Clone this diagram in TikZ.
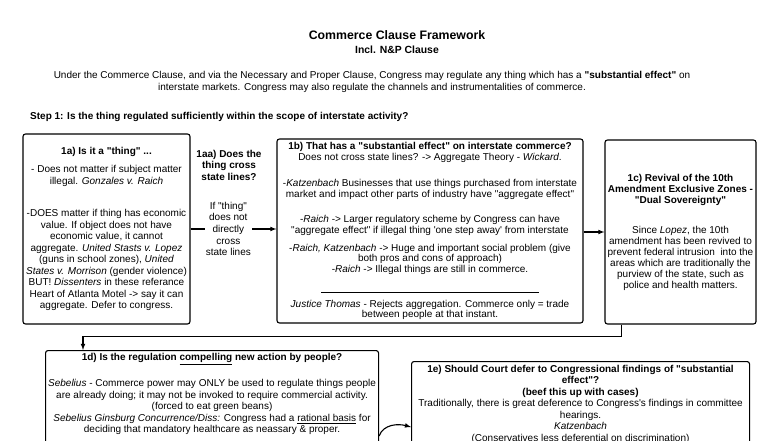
\documentclass[tikz,border=0pt]{standalone}
\usepackage{fontspec}
\setmainfont[Ligatures=TeXOff]{Liberation Sans}
\usetikzlibrary{positioning}

\begin{document}
\begin{tikzpicture}[x=1pt, y=1pt]
\tikzstyle{box}=[rectangle, draw=black, line width=1.1pt, rounded corners=2.5pt, align=center, inner sep=2pt, font=\fontsize{10}{11.5}\selectfont]
\tikzstyle{txt}=[align=center, inner sep=0pt, font=\fontsize{10}{11.5}\selectfont]
\tikzstyle{connect}=[-latex, line width=1.1pt]
\useasboundingbox (0,0) rectangle (784,-441);
\clip (0,0) rectangle (784,-441);

    % heading
    \node[font=\fontsize{12.3}{14}\selectfont\bfseries] (title) at (397,-35) {Commerce Clause Framework};
    \node[font=\fontsize{10.4}{12}\selectfont\bfseries] (subtitle) at (397,-50) {Incl. N\&P Clause};
    \node[txt] (intro) at (372,-82) {Under the Commerce Clause, and via the Necessary and Proper Clause, Congress may regulate any thing which has a \textbf{"substantial effect"} on\\
        interstate markets. Congress may also regulate the channels and instrumentalities of commerce.};
    \node[txt, anchor=west, font=\fontsize{10}{11.5}\selectfont\bfseries] (step) at (30,-117) {Step 1: Is the thing regulated sufficiently within the scope of interstate activity?};

    % step 1 boxes
    \node[box, minimum width=167pt, minimum height=190pt] (a) at (106.5,-229) {\textbf{1a) Is it a "thing" ...}\\[6.5pt]
        - Does not matter if subject matter\\
        illegal. \textit{Gonzales v. Raich}\\[21pt]
        -DOES matter if thing has economic\\
        value. If object does not have\\
        economic value, it cannot\\
        aggregate. \textit{United Stasts v. Lopez}\\
        (guns in school zones), \textit{United}\\
        \textit{States v. Morrison} (gender violence)\\
        BUT! \textit{Dissenters} in these referance\\
        Heart of Atlanta Motel -> say it can\\
        aggregate. Defer to congress.};
    \node[box, minimum width=306pt, minimum height=184pt, font=\fontsize{10}{10.5}\selectfont] (b) at (430,-231) {\textbf{1b) That has a "substantial effect" on interstate commerce?}\\
        Does not cross state lines? -> Aggregate Theory - \textit{Wickard}.\\[16pt]
        -\textit{Katzenbach} Businesses that use things purchased from interstate\\
        market and impact other parts of industry have "aggregate effect"\\[15pt]
        -\textit{Raich} -> Larger regulatory scheme by Congress can have\\
        "aggregate effect" if illegal thing 'one step away' from interstate\\[7.5pt]
        -\textit{Raich, Katzenbach} -> Huge and important social problem (give\\
        both pros and cons of approach)\\
        -\textit{Raich} -> Illegal things are still in commerce.\\[10.5pt]
        \rule{218pt}{0.8pt}\\[3.5pt]
        \textit{Justice Thomas} - Rejects aggregation. Commerce only = trade\\
        between people at that instant.};
    \node[box, minimum width=151pt, minimum height=184pt, font=\fontsize{10}{11}\selectfont] (c) at (680.5,-232) {\textbf{1c) Revival of the 10th}\\
        \textbf{Amendment Exclusive Zones -}\\
        \textbf{"Dual Sovereignty"}\\[19pt]
        Since \textit{Lopez}, the 10th\\
        amendment has been revived to\\
        prevent federal intrusion\ \ into the\\
        areas which are traditionally the\\
        purview of the state, such as\\
        police and health matters.};

    % lower boxes run past the page
    \node[box, minimum width=333pt, minimum height=130pt, anchor=north west] (d) at (45,-350) {};
    \node[txt, below=3pt of d.north, font=\fontsize{10}{11.6}\selectfont] (dtext) {\textbf{1d) Is the regulation \underline{compelling} new action by people?}\\[14.5pt]
        \textit{Sebelius} - Commerce power may ONLY be used to regulate things people\\
        are already doing; it may not be invoked to require commercial activity.\\
        (forced to eat green beans)\\
        \textit{Sebelius Ginsburg Concurrence/Diss:} Congress had a \underline{rational basis} for\\
        deciding that mandatory healthcare as neassary \& proper.};
    \node[box, minimum width=338pt, minimum height=120pt, anchor=north west] (e) at (411,-361) {};
    \node[txt, below=4pt of e.north] (etext) {\textbf{1e) Should Court defer to Congressional findings of "substantial}\\
        \textbf{effect"?}\\
        \textbf{(beef this up with cases)}\\
        Traditionally, there is great deference to Congress's findings in committee\\
        hearings.\\
        \textit{Katzenbach}\\
        (Conservatives less deferential on discrimination)};

    % connectors
    \node[txt, font=\fontsize{10}{11.5}\selectfont\bfseries] (cross) at (229,-165) {1aa) Does the\\ thing cross\\ state lines?};
    \path (a.east) edge [connect] node[txt, fill=white, inner sep=1pt, pos=0.44, font=\fontsize{10}{11.7}\selectfont] (lbl) {If "thing"\\ does not\\ directly\\ cross\\ state lines} (a.east -| b.west);
    \path ([yshift=-1pt]b.east) edge [connect] ([yshift=-1pt]b.east -| c.west);
    \draw[connect] ([xshift=17pt]c.south west) -- ++(0,-12) -| ([xshift=38pt]d.north west);
    \draw[connect] ([yshift=-86pt]d.north east) to[out=70, in=165] ([yshift=-66pt]e.north west);
\end{tikzpicture}
\end{document}
